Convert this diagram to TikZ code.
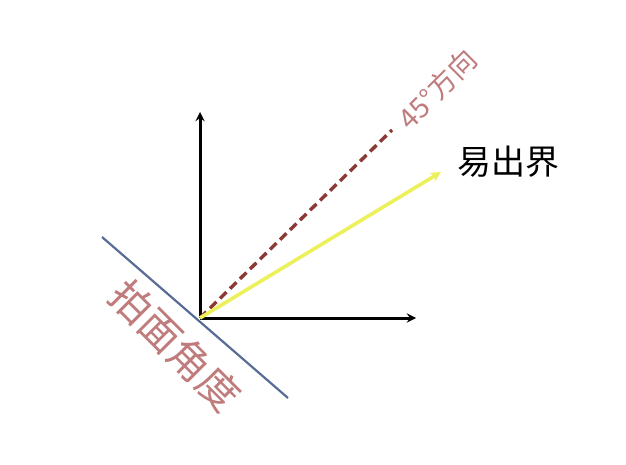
\documentclass[tikz,border=0pt]{standalone}
\usepackage{fontspec}
\usepackage{tikz}
\usetikzlibrary{calc}
\newfontfamily\cjk{Noto Sans CJK SC}

\definecolor{rosy}{RGB}{192,124,124}
\definecolor{dashbrown}{RGB}{140,56,52}
\definecolor{paddleblue}{RGB}{88,108,150}
\definecolor{lightyellow}{RGB}{236,240,90}

\begin{document}
\begin{tikzpicture}[x=1pt, y=1pt]
			\useasboundingbox (0,0) rectangle (626,464);

			\coordinate (O) at (200,146);
			\coordinate (ytip) at (200,352);
			\coordinate (xtip) at (416,146);
			\coordinate (dir45) at (392,334);
			\coordinate (out) at (441,292);
			\coordinate (padA) at (102,227);
			\coordinate (padB) at (288,66);

			\draw[paddleblue, line width=2.2pt] (padA) -- (padB);

			\begin{scope}[-stealth, black, line width=3pt]
				\draw (O) -- (ytip);
				\draw (O) -- (xtip);
			\end{scope}

			\draw[dashbrown, dash pattern=on 9pt off 5pt, line width=3.4pt] (O) -- (dir45);
			\draw[-stealth, lightyellow, line width=3.6pt] (O) -- (out);

			\node[rosy, rotate=45, font=\cjk\fontsize{28}{28}\selectfont] (label45) at (437,375) {45°方向};
			\node[black, font=\cjk\fontsize{34}{34}\selectfont] (easyout) at (508,302) {易出界};
			\node[rosy, rotate=-45, font=\cjk\fontsize{41}{41}\selectfont] (padangle) at (175,118) {拍面角度};
		\end{tikzpicture}
\end{document}
